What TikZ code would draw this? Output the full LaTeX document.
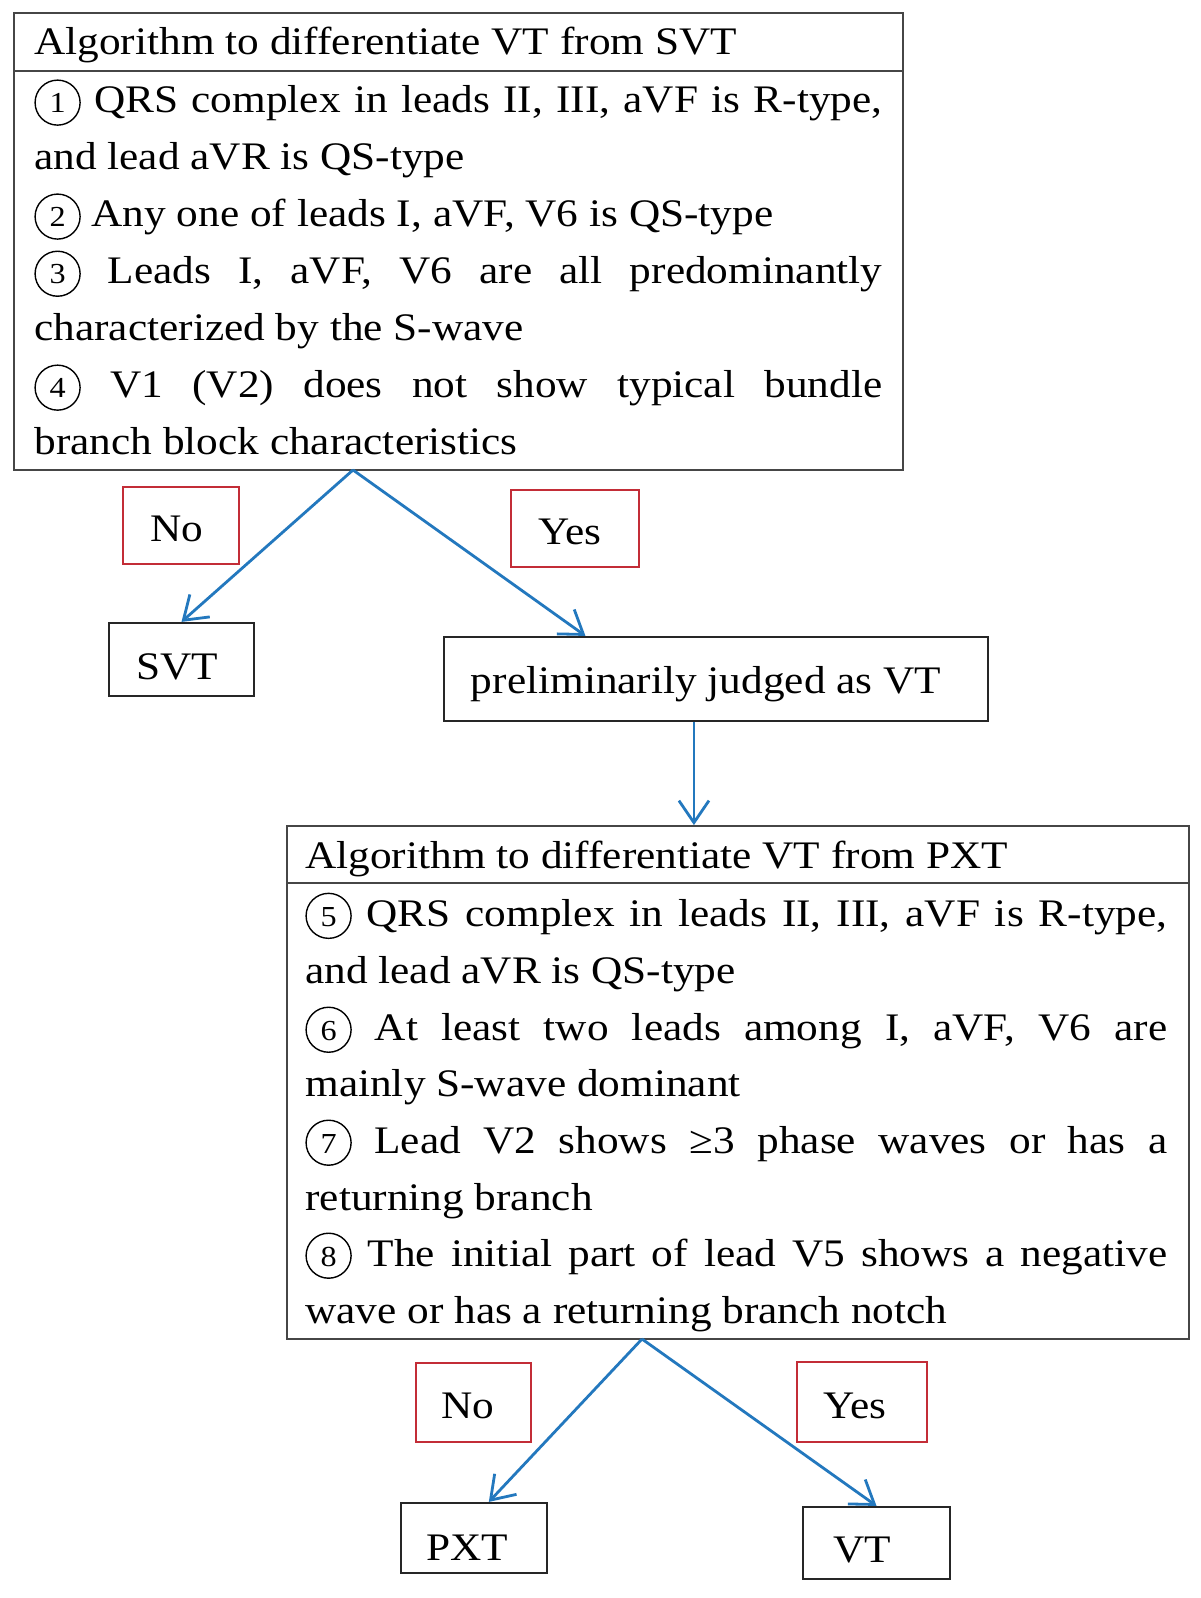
\documentclass[tikz,border=0pt]{standalone}
\usepackage{fontspec}
\setmainfont{Liberation Serif}[FakeStretch=1.11]
\usetikzlibrary{arrows.meta,calc}
\definecolor{boxgray}{RGB}{70,70,70}
\definecolor{labred}{RGB}{195,45,55}
\definecolor{arrblue}{RGB}{35,120,190}
\newcommand\cnum[1]{\tikz[baseline=(d.base)]{\node[inner sep=0pt,font=\fontsize{14.5}{15}\selectfont](d){#1};\draw[line width=0.7pt]([yshift=0.4pt]d.center) circle (11.25pt);}}
\newcommand\jline[2]{\makebox[#1][s]{#2}}
\begin{document}
\begin{tikzpicture}[x=0.5pt,y=-0.5pt,
  bigbox/.style={draw=boxgray,line width=0.9pt,inner sep=0pt},
  smallbox/.style={draw=black!85,line width=1.1pt,inner sep=0pt},
  lab/.style={draw=labred,line width=1pt,inner sep=0pt},
  bl/.style={text height=#1,text depth=0pt},
  arr/.style={draw=arrblue,line width=1.4pt,-{Straight Barb[length=11pt,width=15pt]}},
  txt/.style={anchor=base west,inner sep=0pt},
  font=\fontsize{19.5}{22}\selectfont]
\path[fill=white,use as bounding box] (0,0) rectangle (1200,1598);

% first algorithm box
\node[bigbox,minimum width=444.5pt,minimum height=228.5pt] (A) at (458.5,241.5) {};
\draw[boxgray,line width=0.9pt] (14,71) -- (903,71);
\node[txt] (a0) at (34,55) {Algorithm to differentiate VT from SVT};
\node[txt] (a1) at (34,113) {\jline{424pt}{\cnum{1} QRS complex in leads II, III, aVF is R-type,}};
\node[txt] (a2) at (34,170) {and lead aVR is QS-type};
\node[txt] (a3) at (34,227) {\cnum{2} Any one of leads I, aVF, V6 is QS-type};
\node[txt] (a4) at (34,284) {\jline{424pt}{\cnum{3} Leads I, aVF, V6 are all predominantly}};
\node[txt] (a5) at (34,341) {characterized by the S-wave};
\node[txt] (a6) at (34,398) {\jline{424pt}{\cnum{4} V1 (V2) does not show typical bundle}};
\node[txt] (a7) at (34,455) {branch block characteristics};

% first decision
\coordinate (s1) at (353,470);
\node[lab,bl=16pt,minimum width=58pt,minimum height=38.5pt] (n1) at (181,525.5) {No\hspace*{4.5pt}};
\node[lab,bl=16pt,minimum width=64pt,minimum height=38.5pt] (y1) at (575,528.5) {Yes\hspace*{5pt}};
\node[smallbox,bl=20pt,minimum width=72.5pt,minimum height=36.5pt] (svt) at (181.5,659.5) {SVT\hspace*{4pt}};
\node[smallbox,bl=14pt,minimum width=272pt,minimum height=42pt] (pre) at (716,679) {preliminarily judged as VT\hspace*{10pt}};
\draw[arr] (s1) -- (svt.north);
\draw[arr] (s1) -- ($(pre.north west)!0.261!(pre.north east)$);

% second algorithm box
\node[bigbox,minimum width=451pt,minimum height=256.5pt] (B) at (738,1082.5) {};
\draw[boxgray,line width=0.9pt] (287,883) -- (1189,883);
\node[txt] (b0) at (305,868) {Algorithm to differentiate VT from PXT};
\node[txt] (b1) at (305,926) {\jline{431pt}{\cnum{5} QRS complex in leads II, III, aVF is R-type,}};
\node[txt] (b2) at (305,983) {and lead aVR is QS-type};
\node[txt] (b3) at (305,1040) {\jline{431pt}{\cnum{6} At least two leads among I, aVF, V6 are}};
\node[txt] (b4) at (305,1096) {mainly S-wave dominant};
\node[txt] (b5) at (305,1153) {\jline{431pt}{\cnum{7} Lead V2 shows ≥3 phase waves or has a}};
\node[txt] (b6) at (305,1210) {returning branch};
\node[txt] (b7) at (305,1266) {\jline{431pt}{\cnum{8} The initial part of lead V5 shows a negative}};
\node[txt] (b8) at (305,1323) {wave or has a returning branch notch};

\coordinate (p1) at ($(pre.south west)!0.4596!(pre.south east)$);
\draw[arr] (p1) -- (p1 |- B.north);

% second decision
\coordinate (s2) at (642,1339);
\node[lab,bl=16pt,minimum width=57.5pt,minimum height=39.5pt] (n2) at (473.5,1402.5) {No\hspace*{6pt}};
\node[lab,bl=16pt,minimum width=65pt,minimum height=40pt] (y2) at (862,1402) {Yes\hspace*{7pt}};
\node[smallbox,bl=22pt,minimum width=73pt,minimum height=35pt] (pxt) at (474,1538) {PXT\hspace*{7pt}};
\node[smallbox,bl=19pt,minimum width=73.5pt,minimum height=36pt] (vt) at (876.5,1543) {VT\hspace*{14pt}};
\draw[arr] (s2) -- ($(pxt.north west)!0.6!(pxt.north east)$);
\draw[arr] (s2) -- (vt.north);
\end{tikzpicture}
\end{document}
